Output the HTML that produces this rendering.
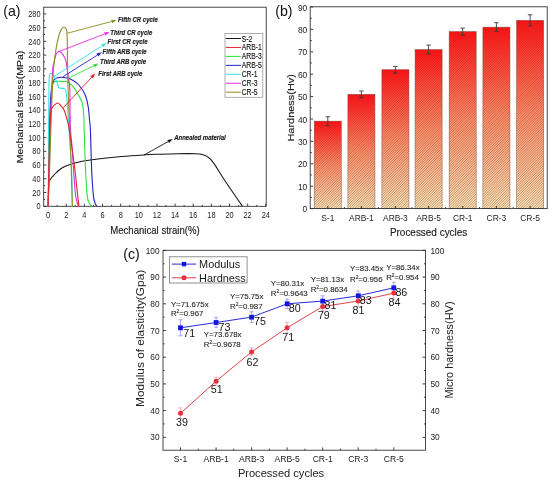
<!DOCTYPE html>
<html lang="en"><head><meta charset="utf-8"><title>Figure</title>
<style>html,body{margin:0;padding:0;background:#fff}svg{display:block}</style></head>
<body>
<svg width="550" height="481" viewBox="0 0 550 481" font-family='"Liberation Sans", Arial, sans-serif'>
<defs>
<linearGradient id="bg" x1="0" y1="0" x2="0" y2="1">
<stop offset="0" stop-color="#ff1618"/><stop offset="0.5" stop-color="#ff9270"/><stop offset="1" stop-color="#ffe6bc"/>
</linearGradient>
<linearGradient id="hg" x1="0" y1="0" x2="0" y2="1">
<stop offset="0" stop-color="#be0a0a" stop-opacity="0.62"/><stop offset="0.5" stop-color="#96320f" stop-opacity="0.62"/><stop offset="1" stop-color="#78461e" stop-opacity="0.62"/>
</linearGradient>
</defs>
<rect width="550" height="481" fill="#fff"/>
<g id="chartA">
<rect x="43.7" y="7.2" width="222.5" height="199.1" fill="none" stroke="#2a2a2a" stroke-width="0.85"/>
<path d="M43.7 206.25h2.6M43.7 199.38h1.4M43.7 192.51h2.6M43.7 185.64h1.4M43.7 178.77h2.6M43.7 171.90h1.4M43.7 165.03h2.6M43.7 158.16h1.4M43.7 151.29h2.6M43.7 144.42h1.4M43.7 137.55h2.6M43.7 130.68h1.4M43.7 123.81h2.6M43.7 116.94h1.4M43.7 110.07h2.6M43.7 103.20h1.4M43.7 96.33h2.6M43.7 89.46h1.4M43.7 82.59h2.6M43.7 75.72h1.4M43.7 68.85h2.6M43.7 61.98h1.4M43.7 55.11h2.6M43.7 48.24h1.4M43.7 41.37h2.6M43.7 34.50h1.4M43.7 27.63h2.6M43.7 20.76h1.4M43.7 13.89h2.6M48.10 206.25v-2.6M57.17 206.25v-1.4M66.24 206.25v-2.6M75.31 206.25v-1.4M84.38 206.25v-2.6M93.45 206.25v-1.4M102.52 206.25v-2.6M111.59 206.25v-1.4M120.66 206.25v-2.6M129.73 206.25v-1.4M138.80 206.25v-2.6M147.87 206.25v-1.4M156.94 206.25v-2.6M166.01 206.25v-1.4M175.08 206.25v-2.6M184.15 206.25v-1.4M193.22 206.25v-2.6M202.29 206.25v-1.4M211.36 206.25v-2.6M220.43 206.25v-1.4M229.50 206.25v-2.6M238.57 206.25v-1.4M247.64 206.25v-2.6M256.71 206.25v-1.4M265.78 206.25v-2.6" stroke="#2a2a2a" stroke-width="0.9" fill="none"/>
<text transform="translate(40.6 209.4) scale(1 1.3)" font-size="7.4" fill="#222" text-anchor="end">0</text>
<text transform="translate(40.6 195.7) scale(1 1.3)" font-size="7.4" fill="#222" text-anchor="end">20</text>
<text transform="translate(40.6 181.9) scale(1 1.3)" font-size="7.4" fill="#222" text-anchor="end">40</text>
<text transform="translate(40.6 168.2) scale(1 1.3)" font-size="7.4" fill="#222" text-anchor="end">60</text>
<text transform="translate(40.6 154.4) scale(1 1.3)" font-size="7.4" fill="#222" text-anchor="end">80</text>
<text transform="translate(40.6 140.7) scale(1 1.3)" font-size="7.4" fill="#222" text-anchor="end">100</text>
<text transform="translate(40.6 127.0) scale(1 1.3)" font-size="7.4" fill="#222" text-anchor="end">120</text>
<text transform="translate(40.6 113.2) scale(1 1.3)" font-size="7.4" fill="#222" text-anchor="end">140</text>
<text transform="translate(40.6 99.5) scale(1 1.3)" font-size="7.4" fill="#222" text-anchor="end">160</text>
<text transform="translate(40.6 85.7) scale(1 1.3)" font-size="7.4" fill="#222" text-anchor="end">180</text>
<text transform="translate(40.6 72.0) scale(1 1.3)" font-size="7.4" fill="#222" text-anchor="end">200</text>
<text transform="translate(40.6 58.3) scale(1 1.3)" font-size="7.4" fill="#222" text-anchor="end">220</text>
<text transform="translate(40.6 44.5) scale(1 1.3)" font-size="7.4" fill="#222" text-anchor="end">240</text>
<text transform="translate(40.6 30.8) scale(1 1.3)" font-size="7.4" fill="#222" text-anchor="end">260</text>
<text transform="translate(40.6 17.0) scale(1 1.3)" font-size="7.4" fill="#222" text-anchor="end">280</text>
<text transform="translate(48.1 218.2) scale(1 1.3)" font-size="7.4" fill="#222" text-anchor="middle">0</text>
<text transform="translate(66.2 218.2) scale(1 1.3)" font-size="7.4" fill="#222" text-anchor="middle">2</text>
<text transform="translate(84.4 218.2) scale(1 1.3)" font-size="7.4" fill="#222" text-anchor="middle">4</text>
<text transform="translate(102.5 218.2) scale(1 1.3)" font-size="7.4" fill="#222" text-anchor="middle">6</text>
<text transform="translate(120.7 218.2) scale(1 1.3)" font-size="7.4" fill="#222" text-anchor="middle">8</text>
<text transform="translate(138.8 218.2) scale(1 1.3)" font-size="7.4" fill="#222" text-anchor="middle">10</text>
<text transform="translate(156.9 218.2) scale(1 1.3)" font-size="7.4" fill="#222" text-anchor="middle">12</text>
<text transform="translate(175.1 218.2) scale(1 1.3)" font-size="7.4" fill="#222" text-anchor="middle">14</text>
<text transform="translate(193.2 218.2) scale(1 1.3)" font-size="7.4" fill="#222" text-anchor="middle">16</text>
<text transform="translate(211.4 218.2) scale(1 1.3)" font-size="7.4" fill="#222" text-anchor="middle">18</text>
<text transform="translate(229.5 218.2) scale(1 1.3)" font-size="7.4" fill="#222" text-anchor="middle">20</text>
<text transform="translate(247.6 218.2) scale(1 1.3)" font-size="7.4" fill="#222" text-anchor="middle">22</text>
<text transform="translate(265.8 218.2) scale(1 1.3)" font-size="7.4" fill="#222" text-anchor="middle">24</text>
<text transform="translate(155.0 233.6) scale(1 1.15)" font-size="9.6" fill="#222" text-anchor="middle" stroke="#222" stroke-width="0.15">Mechanical strain(%)</text>
<text transform="translate(23.0 107.0) rotate(-90) scale(1.18 1)" font-size="8.9" fill="#222" text-anchor="middle" stroke="#222" stroke-width="0.15">Mechanical stress(MPa)</text>
<text x="3.2" y="15.7" font-size="14.2" fill="#111">(a)</text>
<path d="M48.4 184.0C48.5 183.6 48.8 182.5 49.3 181.5C49.8 180.5 50.6 179.0 51.5 177.8C52.4 176.6 53.5 175.5 54.6 174.4C55.7 173.3 56.8 172.0 58.0 171.0C59.2 170.0 60.2 169.1 61.6 168.2C63.0 167.3 64.7 166.5 66.5 165.8C68.3 165.1 70.3 164.4 72.2 163.8C74.1 163.2 75.9 162.7 78.0 162.2C80.1 161.7 81.9 161.3 84.6 160.8C87.3 160.3 90.8 159.8 94.0 159.4C97.2 159.0 99.4 158.7 104.0 158.2C108.6 157.7 115.0 157.1 121.6 156.5C128.2 155.9 136.9 155.3 143.3 154.9C149.7 154.5 154.3 154.4 160.0 154.2C165.7 154.0 171.3 153.8 177.3 153.7C183.3 153.6 191.9 153.6 195.8 153.7C199.8 153.8 199.4 154.0 201.0 154.3C202.6 154.6 203.8 155.0 205.1 155.5C206.3 156.0 207.5 156.7 208.5 157.5C209.5 158.3 210.1 158.7 211.3 160.2C212.5 161.7 213.9 163.3 215.9 166.4C217.9 169.5 219.2 172.1 223.6 178.7C228.0 185.3 239.1 201.4 242.2 205.9" fill="none" stroke="#151515" stroke-width="1.05" stroke-linejoin="round" stroke-linecap="round"/>
<path d="M48.3 206.0C48.4 198.3 48.7 176.0 49.0 160.0C49.3 144.0 49.7 122.5 50.3 110.0C50.9 97.5 52.0 89.7 52.7 85.0C53.4 80.3 53.7 82.4 54.6 81.8C55.5 81.2 56.6 81.2 58.0 81.2C59.4 81.2 61.1 81.5 62.7 81.6C64.3 81.7 66.0 81.1 67.7 81.9C69.4 82.7 71.0 84.2 72.7 86.2C74.4 88.2 76.2 91.0 77.7 93.7C79.2 96.4 81.0 99.1 82.0 102.4C83.0 105.7 83.3 109.1 83.7 113.7C84.1 118.3 83.9 120.7 84.2 129.9C84.5 139.1 85.0 158.1 85.5 169.0C86.0 179.9 86.6 190.0 87.2 195.6C87.8 201.2 88.3 200.8 89.0 202.6C89.7 204.4 91.2 205.6 91.6 206.2" fill="none" stroke="#2fe23a" stroke-width="1.1" stroke-linejoin="round" stroke-linecap="round"/>
<path d="M48.3 206.0C48.4 199.2 48.8 177.7 49.0 165.0C49.2 152.3 49.4 139.5 49.6 129.9C49.8 120.3 49.9 114.3 50.2 107.4C50.5 100.5 50.9 93.3 51.5 88.7C52.1 84.1 53.0 81.8 54.0 80.0C55.0 78.2 56.0 78.1 57.7 77.7C59.4 77.3 61.7 77.2 64.0 77.5C66.3 77.8 68.9 78.2 71.4 79.4C73.9 80.7 76.6 82.4 78.9 85.0C81.2 87.6 83.6 91.3 85.2 95.0C86.8 98.7 87.6 103.2 88.3 107.4C89.0 111.6 89.2 116.2 89.5 119.9C89.8 123.7 90.1 121.7 90.4 129.9C90.8 138.1 91.1 158.1 91.6 169.0C92.1 179.9 92.8 189.8 93.4 195.6C94.0 201.3 94.6 201.7 95.2 203.5C95.8 205.3 96.6 205.8 96.9 206.2" fill="none" stroke="#2222cc" stroke-width="1.1" stroke-linejoin="round" stroke-linecap="round"/>
<path d="M48.2 206.0C48.2 195.0 48.4 160.3 48.5 140.0C48.6 119.7 48.8 94.8 49.0 84.0C49.2 73.2 49.2 77.3 49.5 75.5C49.8 73.7 50.4 73.5 50.9 73.3C51.4 73.1 51.8 72.9 52.7 74.2C53.6 75.5 55.6 79.2 56.5 81.2C57.4 83.2 57.8 85.1 58.3 86.2C58.8 87.3 58.6 87.7 59.6 88.1C60.6 88.5 63.0 88.3 64.0 88.7C65.0 89.1 65.3 88.5 65.8 90.6C66.3 92.7 66.7 96.3 67.1 101.2C67.5 106.1 67.7 111.5 68.3 119.9C68.9 128.3 69.9 141.8 70.5 151.5C71.1 161.2 71.6 168.9 71.9 178.0C72.2 187.1 72.2 201.5 72.2 206.2" fill="none" stroke="#30e4e8" stroke-width="1.1" stroke-linejoin="round" stroke-linecap="round"/>
<path d="M47.9 206.0C48.1 199.2 48.9 178.5 49.3 165.0C49.7 151.5 49.9 134.7 50.2 125.0C50.5 115.3 50.5 116.2 50.9 107.0C51.3 97.8 52.2 77.2 52.7 70.0C53.2 62.8 53.2 66.3 53.8 63.7C54.3 61.1 55.1 56.6 56.0 54.5C56.9 52.4 58.0 51.6 58.9 51.3C59.8 51.0 60.6 51.9 61.5 52.8C62.4 53.6 63.2 54.8 64.0 56.4C64.8 58.0 65.5 58.6 66.2 62.2C66.9 65.8 67.8 73.8 68.4 78.2C69.0 82.6 69.5 80.6 69.8 88.4C70.1 96.2 69.9 114.5 70.3 125.0C70.7 135.5 71.8 142.7 72.4 151.5C73.0 160.3 73.6 170.7 74.1 178.0C74.6 185.3 75.0 191.2 75.6 195.6C76.2 200.0 77.2 202.6 77.7 204.4C78.2 206.2 78.4 205.9 78.6 206.2" fill="none" stroke="#e62be0" stroke-width="1.1" stroke-linejoin="round" stroke-linecap="round"/>
<path d="M47.9 206.2C48.1 201.5 48.8 191.5 49.3 178.0C49.8 164.5 50.5 138.8 51.0 125.0C51.5 111.2 51.7 104.2 52.1 95.0C52.5 85.8 52.8 77.7 53.4 70.0C54.0 62.4 55.1 54.9 56.0 49.1C56.9 43.3 58.1 38.3 59.0 35.0C59.9 31.7 60.7 30.5 61.5 29.2C62.3 27.9 63.0 27.5 63.7 27.3C64.4 27.1 65.0 27.5 65.5 28.2C66.0 28.9 66.6 28.1 66.9 31.6C67.2 35.1 67.3 41.3 67.4 49.1C67.5 56.9 67.2 61.4 67.7 78.2C68.2 95.0 69.8 128.7 70.6 150.0C71.4 171.3 72.1 196.8 72.4 206.2" fill="none" stroke="#8f8f22" stroke-width="1.1" stroke-linejoin="round" stroke-linecap="round"/>
<path d="M48.2 206.0C48.3 200.0 48.6 181.8 48.8 170.0C49.0 158.2 49.2 144.8 49.6 135.0C50.0 125.2 50.5 115.7 50.9 111.2C51.3 106.7 51.5 109.0 52.1 108.0C52.7 107.0 53.7 105.7 54.6 104.9C55.5 104.1 56.8 103.0 57.7 103.0C58.6 103.0 59.2 103.8 60.2 104.9C61.2 106.1 62.9 107.6 64.0 109.9C65.1 112.2 66.0 115.6 66.8 118.5C67.6 121.4 67.9 121.7 68.9 127.3C69.9 132.9 71.5 144.1 72.6 152.2C73.7 160.3 74.8 168.8 75.6 176.0C76.4 183.2 77.2 190.6 77.7 195.6C78.2 200.6 78.7 204.4 78.9 206.2" fill="none" stroke="#e0262c" stroke-width="1.1" stroke-linejoin="round" stroke-linecap="round"/>
<path d="M67.3 33.2L111.6 21.5" stroke="#8f8f22" stroke-width="0.9" fill="none"/>
<path d="M116.6 20.2L112.0 23.3L111.1 19.8Z" fill="#8f8f22"/>
<path d="M58.5 51.7L104.7 33.9" stroke="#e62be0" stroke-width="0.9" fill="none"/>
<path d="M109.6 32.0L105.4 35.6L104.1 32.2Z" fill="#e62be0"/>
<path d="M54.2 76.4L102.2 45.7" stroke="#30e4e8" stroke-width="0.9" fill="none"/>
<path d="M106.6 42.9L103.2 47.2L101.2 44.2Z" fill="#30e4e8"/>
<path d="M62.9 76.8L97.4 55.1" stroke="#2222cc" stroke-width="0.9" fill="none"/>
<path d="M101.8 52.3L98.4 56.6L96.4 53.5Z" fill="#2222cc"/>
<path d="M67.3 78.5L93.9 65.8" stroke="#2fe23a" stroke-width="0.9" fill="none"/>
<path d="M98.6 63.6L94.7 67.5L93.1 64.2Z" fill="#2fe23a"/>
<path d="M63.3 107.7L91.7 77.2" stroke="#e0262c" stroke-width="0.9" fill="none"/>
<path d="M95.2 73.4L93.0 78.4L90.3 76.0Z" fill="#e0262c"/>
<path d="M144.2 154.9L168.3 141.5" stroke="#151515" stroke-width="0.9" fill="none"/>
<path d="M172.8 139.0L169.1 143.1L167.4 140.0Z" fill="#151515"/>
<text transform="translate(117.9 21.9) scale(1 1.27)" font-size="6.0" fill="#1a1a1a" font-weight="bold" font-style="italic" stroke="#1a1a1a" stroke-width="0.15">Fifth CR cycle</text>
<text transform="translate(110.3 34.8) scale(1 1.27)" font-size="6.0" fill="#1a1a1a" font-weight="bold" font-style="italic" stroke="#1a1a1a" stroke-width="0.15">Third CR cycle</text>
<text transform="translate(107.6 43.7) scale(1 1.27)" font-size="6.0" fill="#1a1a1a" font-weight="bold" font-style="italic" stroke="#1a1a1a" stroke-width="0.15">First CR cycle</text>
<text transform="translate(102.6 54.4) scale(1 1.27)" font-size="6.0" fill="#1a1a1a" font-weight="bold" font-style="italic" stroke="#1a1a1a" stroke-width="0.15">Fifth ARB cycle</text>
<text transform="translate(100.0 64.4) scale(1 1.27)" font-size="6.0" fill="#1a1a1a" font-weight="bold" font-style="italic" stroke="#1a1a1a" stroke-width="0.15">Third ARB cycle</text>
<text transform="translate(98.3 75.8) scale(1 1.27)" font-size="6.0" fill="#1a1a1a" font-weight="bold" font-style="italic" stroke="#1a1a1a" stroke-width="0.15">First ARB cycle</text>
<text transform="translate(174.2 140.3) scale(1 1.27)" font-size="6.0" fill="#1a1a1a" font-weight="bold" font-style="italic" stroke="#1a1a1a" stroke-width="0.15">Annealed material</text>
<rect x="225" y="33.5" width="37.8" height="63.8" fill="#fff" stroke="#999" stroke-width="0.8"/>
<path d="M225.8 38.50H241" stroke="#151515" stroke-width="1"/>
<text transform="translate(241.7 41.5) scale(1 1.22)" font-size="6.8" fill="#1a1a1a" stroke="#1a1a1a" stroke-width="0.12">S-2</text>
<path d="M225.8 47.45H241" stroke="#e0262c" stroke-width="1"/>
<text transform="translate(241.7 50.4) scale(1 1.22)" font-size="6.8" fill="#1a1a1a" stroke="#1a1a1a" stroke-width="0.12">ARB-1</text>
<path d="M225.8 56.40H241" stroke="#2fe23a" stroke-width="1"/>
<text transform="translate(241.7 59.4) scale(1 1.22)" font-size="6.8" fill="#1a1a1a" stroke="#1a1a1a" stroke-width="0.12">ARB-3</text>
<path d="M225.8 65.35H241" stroke="#2222cc" stroke-width="1"/>
<text transform="translate(241.7 68.3) scale(1 1.22)" font-size="6.8" fill="#1a1a1a" stroke="#1a1a1a" stroke-width="0.12">ARB-5</text>
<path d="M225.8 74.30H241" stroke="#30e4e8" stroke-width="1"/>
<text transform="translate(241.7 77.3) scale(1 1.22)" font-size="6.8" fill="#1a1a1a" stroke="#1a1a1a" stroke-width="0.12">CR-1</text>
<path d="M225.8 83.25H241" stroke="#e62be0" stroke-width="1"/>
<text transform="translate(241.7 86.2) scale(1 1.22)" font-size="6.8" fill="#1a1a1a" stroke="#1a1a1a" stroke-width="0.12">CR-3</text>
<path d="M225.8 92.20H241" stroke="#8f8f22" stroke-width="1"/>
<text transform="translate(241.7 95.2) scale(1 1.22)" font-size="6.8" fill="#1a1a1a" stroke="#1a1a1a" stroke-width="0.12">CR-5</text>
</g>
<g id="chartB">
<rect x="314.3" y="121.2" width="27.0" height="87.4" fill="url(#bg)"/>
<path d="M314.3 121.8L314.9 121.2M314.3 124.3L317.4 121.2M314.3 126.7L319.8 121.2M314.3 129.2L322.2 121.2M314.3 131.6L324.7 121.2M314.3 134.1L327.1 121.2M314.3 136.5L329.6 121.2M314.3 139.0L332.0 121.2M314.3 141.4L334.5 121.2M314.3 143.9L336.9 121.2M314.3 146.3L339.4 121.2M314.3 148.8L341.3 121.8M314.3 151.2L341.3 124.2M314.3 153.7L341.3 126.7M314.3 156.1L341.3 129.1M314.3 158.6L341.3 131.6M314.3 161.0L341.3 134.0M314.3 163.5L341.3 136.5M314.3 165.9L341.3 138.9M314.3 168.4L341.3 141.4M314.3 170.8L341.3 143.8M314.3 173.3L341.3 146.3M314.3 175.7L341.3 148.7M314.3 178.2L341.3 151.2M314.3 180.6L341.3 153.6M314.3 183.1L341.3 156.1M314.3 185.5L341.3 158.5M314.3 188.0L341.3 161.0M314.3 190.4L341.3 163.4M314.3 192.9L341.3 165.9M314.3 195.3L341.3 168.3M314.3 197.8L341.3 170.8M314.3 200.2L341.3 173.2M314.3 202.7L341.3 175.7M314.3 205.1L341.3 178.1M314.3 207.6L341.3 180.6M315.7 208.6L341.3 183.0M318.2 208.6L341.3 185.5M320.6 208.6L341.3 187.9M323.1 208.6L341.3 190.4M325.5 208.6L341.3 192.8M328.0 208.6L341.3 195.3M330.4 208.6L341.3 197.7M332.9 208.6L341.3 200.2M335.3 208.6L341.3 202.6M337.8 208.6L341.3 205.1M340.2 208.6L341.3 207.5" stroke="url(#hg)" stroke-width="0.72" fill="none"/>
<rect x="347.9" y="94.4" width="27.0" height="114.2" fill="url(#bg)"/>
<path d="M347.9 95.0L348.5 94.4M347.9 97.4L351.0 94.4M347.9 99.9L353.4 94.4M347.9 102.3L355.9 94.4M347.9 104.8L358.3 94.4M347.9 107.2L360.8 94.4M347.9 109.7L363.2 94.4M347.9 112.1L365.6 94.4M347.9 114.6L368.1 94.4M347.9 117.0L370.5 94.4M347.9 119.5L373.0 94.4M347.9 121.9L374.9 94.9M347.9 124.4L374.9 97.4M347.9 126.8L374.9 99.8M347.9 129.3L374.9 102.3M347.9 131.7L374.9 104.7M347.9 134.2L374.9 107.2M347.9 136.6L374.9 109.6M347.9 139.1L374.9 112.1M347.9 141.5L374.9 114.5M347.9 144.0L374.9 117.0M347.9 146.4L374.9 119.4M347.9 148.9L374.9 121.9M347.9 151.3L374.9 124.3M347.9 153.8L374.9 126.8M347.9 156.2L374.9 129.2M347.9 158.7L374.9 131.7M347.9 161.1L374.9 134.1M347.9 163.6L374.9 136.6M347.9 166.0L374.9 139.0M347.9 168.5L374.9 141.5M347.9 170.9L374.9 143.9M347.9 173.4L374.9 146.4M347.9 175.8L374.9 148.8M347.9 178.3L374.9 151.3M347.9 180.7L374.9 153.7M347.9 183.2L374.9 156.2M347.9 185.6L374.9 158.6M347.9 188.1L374.9 161.1M347.9 190.5L374.9 163.5M347.9 193.0L374.9 166.0M347.9 195.4L374.9 168.4M347.9 197.9L374.9 170.9M347.9 200.3L374.9 173.3M347.9 202.8L374.9 175.8M347.9 205.2L374.9 178.2M347.9 207.7L374.9 180.7M349.4 208.6L374.9 183.1M351.9 208.6L374.9 185.6M354.3 208.6L374.9 188.0M356.8 208.6L374.9 190.5M359.2 208.6L374.9 192.9M361.7 208.6L374.9 195.4M364.1 208.6L374.9 197.8M366.6 208.6L374.9 200.3M369.0 208.6L374.9 202.7M371.5 208.6L374.9 205.2M373.9 208.6L374.9 207.6" stroke="url(#hg)" stroke-width="0.72" fill="none"/>
<rect x="381.9" y="69.7" width="27.0" height="138.9" fill="url(#bg)"/>
<path d="M381.9 70.3L382.5 69.7M381.9 72.8L384.9 69.7M381.9 75.2L387.4 69.7M381.9 77.7L389.8 69.7M381.9 80.1L392.3 69.7M381.9 82.6L394.7 69.7M381.9 85.0L397.2 69.7M381.9 87.5L399.6 69.7M381.9 89.9L402.1 69.7M381.9 92.4L404.5 69.7M381.9 94.8L407.0 69.7M381.9 97.3L408.9 70.3M381.9 99.7L408.9 72.7M381.9 102.2L408.9 75.2M381.9 104.6L408.9 77.6M381.9 107.1L408.9 80.1M381.9 109.5L408.9 82.5M381.9 112.0L408.9 85.0M381.9 114.4L408.9 87.4M381.9 116.9L408.9 89.9M381.9 119.3L408.9 92.3M381.9 121.8L408.9 94.8M381.9 124.2L408.9 97.2M381.9 126.7L408.9 99.7M381.9 129.1L408.9 102.1M381.9 131.6L408.9 104.6M381.9 134.0L408.9 107.0M381.9 136.5L408.9 109.5M381.9 138.9L408.9 111.9M381.9 141.4L408.9 114.4M381.9 143.8L408.9 116.8M381.9 146.3L408.9 119.3M381.9 148.7L408.9 121.7M381.9 151.2L408.9 124.2M381.9 153.6L408.9 126.6M381.9 156.1L408.9 129.1M381.9 158.5L408.9 131.5M381.9 161.0L408.9 134.0M381.9 163.4L408.9 136.4M381.9 165.9L408.9 138.9M381.9 168.3L408.9 141.3M381.9 170.8L408.9 143.8M381.9 173.2L408.9 146.2M381.9 175.7L408.9 148.7M381.9 178.1L408.9 151.1M381.9 180.6L408.9 153.6M381.9 183.0L408.9 156.0M381.9 185.5L408.9 158.5M381.9 187.9L408.9 160.9M381.9 190.4L408.9 163.4M381.9 192.8L408.9 165.8M381.9 195.3L408.9 168.3M381.9 197.7L408.9 170.7M381.9 200.2L408.9 173.2M381.9 202.6L408.9 175.6M381.9 205.1L408.9 178.1M381.9 207.5L408.9 180.5M383.3 208.6L408.9 183.0M385.7 208.6L408.9 185.4M388.2 208.6L408.9 187.9M390.6 208.6L408.9 190.3M393.1 208.6L408.9 192.8M395.5 208.6L408.9 195.2M398.0 208.6L408.9 197.7M400.4 208.6L408.9 200.1M402.9 208.6L408.9 202.6M405.3 208.6L408.9 205.0M407.8 208.6L408.9 207.5" stroke="url(#hg)" stroke-width="0.72" fill="none"/>
<rect x="415.1" y="49.6" width="27.0" height="159.0" fill="url(#bg)"/>
<path d="M415.1 50.2L415.7 49.6M415.1 52.6L418.1 49.6M415.1 55.1L420.6 49.6M415.1 57.5L423.0 49.6M415.1 60.0L425.5 49.6M415.1 62.4L427.9 49.6M415.1 64.9L430.4 49.6M415.1 67.3L432.8 49.6M415.1 69.8L435.3 49.6M415.1 72.2L437.7 49.6M415.1 74.7L440.2 49.6M415.1 77.1L442.1 50.1M415.1 79.6L442.1 52.6M415.1 82.0L442.1 55.0M415.1 84.5L442.1 57.5M415.1 86.9L442.1 59.9M415.1 89.4L442.1 62.4M415.1 91.8L442.1 64.8M415.1 94.3L442.1 67.3M415.1 96.7L442.1 69.7M415.1 99.2L442.1 72.2M415.1 101.6L442.1 74.6M415.1 104.1L442.1 77.1M415.1 106.5L442.1 79.5M415.1 109.0L442.1 82.0M415.1 111.4L442.1 84.4M415.1 113.9L442.1 86.9M415.1 116.3L442.1 89.3M415.1 118.8L442.1 91.8M415.1 121.2L442.1 94.2M415.1 123.7L442.1 96.7M415.1 126.1L442.1 99.1M415.1 128.6L442.1 101.6M415.1 131.0L442.1 104.0M415.1 133.5L442.1 106.5M415.1 135.9L442.1 108.9M415.1 138.4L442.1 111.4M415.1 140.8L442.1 113.8M415.1 143.3L442.1 116.3M415.1 145.7L442.1 118.7M415.1 148.2L442.1 121.2M415.1 150.6L442.1 123.6M415.1 153.1L442.1 126.1M415.1 155.5L442.1 128.5M415.1 158.0L442.1 131.0M415.1 160.4L442.1 133.4M415.1 162.9L442.1 135.9M415.1 165.3L442.1 138.3M415.1 167.8L442.1 140.8M415.1 170.2L442.1 143.2M415.1 172.7L442.1 145.7M415.1 175.1L442.1 148.1M415.1 177.6L442.1 150.6M415.1 180.0L442.1 153.0M415.1 182.5L442.1 155.5M415.1 184.9L442.1 157.9M415.1 187.4L442.1 160.4M415.1 189.8L442.1 162.8M415.1 192.3L442.1 165.3M415.1 194.7L442.1 167.7M415.1 197.2L442.1 170.2M415.1 199.6L442.1 172.6M415.1 202.1L442.1 175.1M415.1 204.5L442.1 177.5M415.1 207.0L442.1 180.0M415.9 208.6L442.1 182.4M418.4 208.6L442.1 184.9M420.8 208.6L442.1 187.3M423.3 208.6L442.1 189.8M425.7 208.6L442.1 192.2M428.2 208.6L442.1 194.7M430.6 208.6L442.1 197.1M433.1 208.6L442.1 199.6M435.5 208.6L442.1 202.0M438.0 208.6L442.1 204.5M440.4 208.6L442.1 206.9" stroke="url(#hg)" stroke-width="0.72" fill="none"/>
<rect x="449.2" y="31.6" width="27.0" height="177.0" fill="url(#bg)"/>
<path d="M449.2 32.2L449.8 31.6M449.2 34.7L452.2 31.6M449.2 37.1L454.7 31.6M449.2 39.6L457.1 31.6M449.2 42.0L459.6 31.6M449.2 44.5L462.0 31.6M449.2 46.9L464.5 31.6M449.2 49.4L466.9 31.6M449.2 51.8L469.4 31.6M449.2 54.3L471.8 31.6M449.2 56.7L474.3 31.6M449.2 59.2L476.2 32.2M449.2 61.6L476.2 34.6M449.2 64.1L476.2 37.1M449.2 66.5L476.2 39.5M449.2 69.0L476.2 42.0M449.2 71.4L476.2 44.4M449.2 73.9L476.2 46.9M449.2 76.3L476.2 49.3M449.2 78.8L476.2 51.8M449.2 81.2L476.2 54.2M449.2 83.7L476.2 56.7M449.2 86.1L476.2 59.1M449.2 88.6L476.2 61.6M449.2 91.0L476.2 64.0M449.2 93.5L476.2 66.5M449.2 95.9L476.2 68.9M449.2 98.4L476.2 71.4M449.2 100.8L476.2 73.8M449.2 103.3L476.2 76.3M449.2 105.7L476.2 78.7M449.2 108.2L476.2 81.2M449.2 110.6L476.2 83.6M449.2 113.1L476.2 86.1M449.2 115.5L476.2 88.5M449.2 118.0L476.2 91.0M449.2 120.4L476.2 93.4M449.2 122.9L476.2 95.9M449.2 125.3L476.2 98.3M449.2 127.8L476.2 100.8M449.2 130.2L476.2 103.2M449.2 132.7L476.2 105.7M449.2 135.1L476.2 108.1M449.2 137.6L476.2 110.6M449.2 140.0L476.2 113.0M449.2 142.5L476.2 115.5M449.2 144.9L476.2 117.9M449.2 147.4L476.2 120.4M449.2 149.8L476.2 122.8M449.2 152.3L476.2 125.3M449.2 154.7L476.2 127.7M449.2 157.2L476.2 130.2M449.2 159.6L476.2 132.6M449.2 162.1L476.2 135.1M449.2 164.5L476.2 137.5M449.2 167.0L476.2 140.0M449.2 169.4L476.2 142.4M449.2 171.9L476.2 144.9M449.2 174.3L476.2 147.3M449.2 176.8L476.2 149.8M449.2 179.2L476.2 152.2M449.2 181.7L476.2 154.7M449.2 184.1L476.2 157.1M449.2 186.6L476.2 159.6M449.2 189.0L476.2 162.0M449.2 191.5L476.2 164.5M449.2 193.9L476.2 166.9M449.2 196.4L476.2 169.4M449.2 198.8L476.2 171.8M449.2 201.3L476.2 174.3M449.2 203.7L476.2 176.7M449.2 206.2L476.2 179.2M449.2 208.6L476.2 181.6M451.7 208.6L476.2 184.1M454.1 208.6L476.2 186.5M456.6 208.6L476.2 189.0M459.0 208.6L476.2 191.4M461.5 208.6L476.2 193.9M463.9 208.6L476.2 196.3M466.4 208.6L476.2 198.8M468.8 208.6L476.2 201.2M471.3 208.6L476.2 203.7M473.7 208.6L476.2 206.1" stroke="url(#hg)" stroke-width="0.72" fill="none"/>
<rect x="482.9" y="27.2" width="27.0" height="181.4" fill="url(#bg)"/>
<path d="M482.9 27.8L483.5 27.2M482.9 30.2L486.0 27.2M482.9 32.7L488.4 27.2M482.9 35.1L490.9 27.2M482.9 37.6L493.3 27.2M482.9 40.0L495.8 27.2M482.9 42.5L498.2 27.2M482.9 44.9L500.7 27.2M482.9 47.4L503.1 27.2M482.9 49.8L505.6 27.2M482.9 52.3L508.0 27.2M482.9 54.7L509.9 27.7M482.9 57.2L509.9 30.2M482.9 59.6L509.9 32.6M482.9 62.1L509.9 35.1M482.9 64.5L509.9 37.5M482.9 67.0L509.9 40.0M482.9 69.4L509.9 42.4M482.9 71.9L509.9 44.9M482.9 74.3L509.9 47.3M482.9 76.8L509.9 49.8M482.9 79.2L509.9 52.2M482.9 81.7L509.9 54.7M482.9 84.1L509.9 57.1M482.9 86.6L509.9 59.6M482.9 89.0L509.9 62.0M482.9 91.5L509.9 64.5M482.9 93.9L509.9 66.9M482.9 96.4L509.9 69.4M482.9 98.8L509.9 71.8M482.9 101.3L509.9 74.3M482.9 103.7L509.9 76.7M482.9 106.2L509.9 79.2M482.9 108.6L509.9 81.6M482.9 111.1L509.9 84.1M482.9 113.5L509.9 86.5M482.9 116.0L509.9 89.0M482.9 118.4L509.9 91.4M482.9 120.9L509.9 93.9M482.9 123.3L509.9 96.3M482.9 125.8L509.9 98.8M482.9 128.2L509.9 101.2M482.9 130.7L509.9 103.7M482.9 133.1L509.9 106.1M482.9 135.6L509.9 108.6M482.9 138.0L509.9 111.0M482.9 140.5L509.9 113.5M482.9 142.9L509.9 115.9M482.9 145.4L509.9 118.4M482.9 147.8L509.9 120.8M482.9 150.3L509.9 123.3M482.9 152.7L509.9 125.7M482.9 155.2L509.9 128.2M482.9 157.6L509.9 130.6M482.9 160.1L509.9 133.1M482.9 162.5L509.9 135.5M482.9 165.0L509.9 138.0M482.9 167.4L509.9 140.4M482.9 169.9L509.9 142.9M482.9 172.3L509.9 145.3M482.9 174.8L509.9 147.8M482.9 177.2L509.9 150.2M482.9 179.7L509.9 152.7M482.9 182.1L509.9 155.1M482.9 184.6L509.9 157.6M482.9 187.0L509.9 160.0M482.9 189.5L509.9 162.5M482.9 191.9L509.9 164.9M482.9 194.4L509.9 167.4M482.9 196.8L509.9 169.8M482.9 199.3L509.9 172.3M482.9 201.7L509.9 174.7M482.9 204.2L509.9 177.2M482.9 206.6L509.9 179.6M483.4 208.6L509.9 182.1M485.8 208.6L509.9 184.5M488.3 208.6L509.9 187.0M490.7 208.6L509.9 189.4M493.2 208.6L509.9 191.9M495.6 208.6L509.9 194.3M498.1 208.6L509.9 196.8M500.5 208.6L509.9 199.2M503.0 208.6L509.9 201.7M505.4 208.6L509.9 204.1M507.9 208.6L509.9 206.6" stroke="url(#hg)" stroke-width="0.72" fill="none"/>
<rect x="516.6" y="20.4" width="27.0" height="188.2" fill="url(#bg)"/>
<path d="M516.6 21.0L517.2 20.4M516.6 23.5L519.7 20.4M516.6 25.9L522.1 20.4M516.6 28.4L524.6 20.4M516.6 30.8L527.0 20.4M516.6 33.3L529.5 20.4M516.6 35.7L531.9 20.4M516.6 38.2L534.4 20.4M516.6 40.6L536.8 20.4M516.6 43.1L539.3 20.4M516.6 45.5L541.7 20.4M516.6 48.0L543.6 21.0M516.6 50.4L543.6 23.4M516.6 52.9L543.6 25.9M516.6 55.3L543.6 28.3M516.6 57.8L543.6 30.8M516.6 60.2L543.6 33.2M516.6 62.7L543.6 35.7M516.6 65.1L543.6 38.1M516.6 67.6L543.6 40.6M516.6 70.0L543.6 43.0M516.6 72.5L543.6 45.5M516.6 74.9L543.6 47.9M516.6 77.4L543.6 50.4M516.6 79.8L543.6 52.8M516.6 82.3L543.6 55.3M516.6 84.7L543.6 57.7M516.6 87.2L543.6 60.2M516.6 89.6L543.6 62.6M516.6 92.1L543.6 65.1M516.6 94.5L543.6 67.5M516.6 97.0L543.6 70.0M516.6 99.4L543.6 72.4M516.6 101.9L543.6 74.9M516.6 104.3L543.6 77.3M516.6 106.8L543.6 79.8M516.6 109.2L543.6 82.2M516.6 111.7L543.6 84.7M516.6 114.1L543.6 87.1M516.6 116.6L543.6 89.6M516.6 119.0L543.6 92.0M516.6 121.5L543.6 94.5M516.6 123.9L543.6 96.9M516.6 126.4L543.6 99.4M516.6 128.8L543.6 101.8M516.6 131.3L543.6 104.3M516.6 133.7L543.6 106.7M516.6 136.2L543.6 109.2M516.6 138.6L543.6 111.6M516.6 141.1L543.6 114.1M516.6 143.5L543.6 116.5M516.6 146.0L543.6 119.0M516.6 148.4L543.6 121.4M516.6 150.9L543.6 123.9M516.6 153.3L543.6 126.3M516.6 155.8L543.6 128.8M516.6 158.2L543.6 131.2M516.6 160.7L543.6 133.7M516.6 163.1L543.6 136.1M516.6 165.6L543.6 138.6M516.6 168.0L543.6 141.0M516.6 170.5L543.6 143.5M516.6 172.9L543.6 145.9M516.6 175.4L543.6 148.4M516.6 177.8L543.6 150.8M516.6 180.3L543.6 153.3M516.6 182.7L543.6 155.7M516.6 185.2L543.6 158.2M516.6 187.6L543.6 160.6M516.6 190.1L543.6 163.1M516.6 192.5L543.6 165.5M516.6 195.0L543.6 168.0M516.6 197.4L543.6 170.4M516.6 199.9L543.6 172.9M516.6 202.3L543.6 175.3M516.6 204.8L543.6 177.8M516.6 207.2L543.6 180.2M517.7 208.6L543.6 182.7M520.1 208.6L543.6 185.1M522.6 208.6L543.6 187.6M525.0 208.6L543.6 190.0M527.5 208.6L543.6 192.5M529.9 208.6L543.6 194.9M532.4 208.6L543.6 197.4M534.8 208.6L543.6 199.8M537.3 208.6L543.6 202.3M539.7 208.6L543.6 204.7M542.2 208.6L543.6 207.2" stroke="url(#hg)" stroke-width="0.72" fill="none"/>
<rect x="314.3" y="121.2" width="27.0" height="87.4" fill="none" stroke="#6a3a28" stroke-opacity="0.6" stroke-width="0.7"/>
<path d="M327.8 116.8V125.7M325.6 116.8h4.4M325.6 125.7h4.4" stroke="#3a3a3a" stroke-width="0.9" fill="none"/>
<rect x="347.9" y="94.4" width="27.0" height="114.2" fill="none" stroke="#6a3a28" stroke-opacity="0.6" stroke-width="0.7"/>
<path d="M361.4 91.0V97.7M359.2 91.0h4.4M359.2 97.7h4.4" stroke="#3a3a3a" stroke-width="0.9" fill="none"/>
<rect x="381.9" y="69.7" width="27.0" height="138.9" fill="none" stroke="#6a3a28" stroke-opacity="0.6" stroke-width="0.7"/>
<path d="M395.4 66.4V73.1M393.2 66.4h4.4M393.2 73.1h4.4" stroke="#3a3a3a" stroke-width="0.9" fill="none"/>
<rect x="415.1" y="49.6" width="27.0" height="159.0" fill="none" stroke="#6a3a28" stroke-opacity="0.6" stroke-width="0.7"/>
<path d="M428.6 45.1V54.0M426.4 45.1h4.4M426.4 54.0h4.4" stroke="#3a3a3a" stroke-width="0.9" fill="none"/>
<rect x="449.2" y="31.6" width="27.0" height="177.0" fill="none" stroke="#6a3a28" stroke-opacity="0.6" stroke-width="0.7"/>
<path d="M462.7 28.1V35.2M460.5 28.1h4.4M460.5 35.2h4.4" stroke="#3a3a3a" stroke-width="0.9" fill="none"/>
<rect x="482.9" y="27.2" width="27.0" height="181.4" fill="none" stroke="#6a3a28" stroke-opacity="0.6" stroke-width="0.7"/>
<path d="M496.4 22.7V31.6M494.2 22.7h4.4M494.2 31.6h4.4" stroke="#3a3a3a" stroke-width="0.9" fill="none"/>
<rect x="516.6" y="20.4" width="27.0" height="188.2" fill="none" stroke="#6a3a28" stroke-opacity="0.6" stroke-width="0.7"/>
<path d="M530.1 14.8V26.0M527.9 14.8h4.4M527.9 26.0h4.4" stroke="#3a3a3a" stroke-width="0.9" fill="none"/>
<rect x="310.2" y="6.8" width="237.0" height="201.8" fill="none" stroke="#2a2a2a" stroke-width="0.85"/>
<path d="M310.2 208.60h3M310.2 197.40h1.6M310.2 186.20h3M310.2 175.00h1.6M310.2 163.80h3M310.2 152.60h1.6M310.2 141.40h3M310.2 130.20h1.6M310.2 119.00h3M310.2 107.80h1.6M310.2 96.60h3M310.2 85.40h1.6M310.2 74.20h3M310.2 63.00h1.6M310.2 51.80h3M310.2 40.60h1.6M310.2 29.40h3M310.2 18.20h1.6M310.2 7.00h3M327.8 208.6v-2.6M361.4 208.6v-2.6M395.4 208.6v-2.6M428.6 208.6v-2.6M462.7 208.6v-2.6M496.4 208.6v-2.6M530.1 208.6v-2.6M344.6 208.6v-1.5M378.4 208.6v-1.5M412.0 208.6v-1.5M445.6 208.6v-1.5M479.5 208.6v-1.5M513.2 208.6v-1.5" stroke="#2a2a2a" stroke-width="0.9" fill="none"/>
<text transform="translate(307.3 212.1) scale(1 1.15)" font-size="8.4" fill="#222" text-anchor="end">0</text>
<text transform="translate(307.3 189.7) scale(1 1.15)" font-size="8.4" fill="#222" text-anchor="end">10</text>
<text transform="translate(307.3 167.3) scale(1 1.15)" font-size="8.4" fill="#222" text-anchor="end">20</text>
<text transform="translate(307.3 144.9) scale(1 1.15)" font-size="8.4" fill="#222" text-anchor="end">30</text>
<text transform="translate(307.3 122.5) scale(1 1.15)" font-size="8.4" fill="#222" text-anchor="end">40</text>
<text transform="translate(307.3 100.1) scale(1 1.15)" font-size="8.4" fill="#222" text-anchor="end">50</text>
<text transform="translate(307.3 77.7) scale(1 1.15)" font-size="8.4" fill="#222" text-anchor="end">60</text>
<text transform="translate(307.3 55.3) scale(1 1.15)" font-size="8.4" fill="#222" text-anchor="end">70</text>
<text transform="translate(307.3 32.9) scale(1 1.15)" font-size="8.4" fill="#222" text-anchor="end">80</text>
<text transform="translate(307.3 10.5) scale(1 1.15)" font-size="8.4" fill="#222" text-anchor="end">90</text>
<text transform="translate(327.8 220.9) scale(1 1.15)" font-size="8.4" fill="#222" text-anchor="middle">S-1</text>
<text transform="translate(361.4 220.9) scale(1 1.15)" font-size="8.4" fill="#222" text-anchor="middle">ARB-1</text>
<text transform="translate(395.4 220.9) scale(1 1.15)" font-size="8.4" fill="#222" text-anchor="middle">ARB-3</text>
<text transform="translate(428.6 220.9) scale(1 1.15)" font-size="8.4" fill="#222" text-anchor="middle">ARB-5</text>
<text transform="translate(462.7 220.9) scale(1 1.15)" font-size="8.4" fill="#222" text-anchor="middle">CR-1</text>
<text transform="translate(496.4 220.9) scale(1 1.15)" font-size="8.4" fill="#222" text-anchor="middle">CR-3</text>
<text transform="translate(530.1 220.9) scale(1 1.15)" font-size="8.4" fill="#222" text-anchor="middle">CR-5</text>
<text transform="translate(428.6 236.3) scale(1 1.15)" font-size="9.95" fill="#222" text-anchor="middle" stroke="#222" stroke-width="0.15">Processed cycles</text>
<text transform="translate(294.1 107.8) rotate(-90) scale(1.18 1)" font-size="9.3" fill="#222" text-anchor="middle" stroke="#222" stroke-width="0.15">Hardness(Hv)</text>
<text x="275.2" y="16.3" font-size="14.2" fill="#111">(b)</text>
</g>
<g id="chartC">
<rect x="163.0" y="250.3" width="262.5" height="199.9" fill="none" stroke="#2a2a2a" stroke-width="0.85"/>
<path d="M163.0 437.30h3M425.5 437.30h-3M163.0 423.95h1.6M425.5 423.95h-1.6M163.0 410.60h3M425.5 410.60h-3M163.0 397.25h1.6M425.5 397.25h-1.6M163.0 383.90h3M425.5 383.90h-3M163.0 370.55h1.6M425.5 370.55h-1.6M163.0 357.20h3M425.5 357.20h-3M163.0 343.85h1.6M425.5 343.85h-1.6M163.0 330.50h3M425.5 330.50h-3M163.0 317.15h1.6M425.5 317.15h-1.6M163.0 303.80h3M425.5 303.80h-3M163.0 290.45h1.6M425.5 290.45h-1.6M163.0 277.10h3M425.5 277.10h-3M163.0 263.75h1.6M425.5 263.75h-1.6M163.0 250.40h3M425.5 250.40h-3M180.5 450.2v-2.8M216.1 450.2v-2.8M251.6 450.2v-2.8M287.1 450.2v-2.8M322.7 450.2v-2.8M358.2 450.2v-2.8M393.8 450.2v-2.8M198.3 450.2v-1.5M233.8 450.2v-1.5M269.4 450.2v-1.5M304.9 450.2v-1.5M340.5 450.2v-1.5M376.0 450.2v-1.5" stroke="#2a2a2a" stroke-width="0.9" fill="none"/>
<text transform="translate(159.6 440.4) scale(1 1.06)" font-size="8.3" fill="#222" text-anchor="end">30</text>
<text transform="translate(159.6 413.7) scale(1 1.06)" font-size="8.3" fill="#222" text-anchor="end">40</text>
<text transform="translate(159.6 387.0) scale(1 1.06)" font-size="8.3" fill="#222" text-anchor="end">50</text>
<text transform="translate(159.6 360.3) scale(1 1.06)" font-size="8.3" fill="#222" text-anchor="end">60</text>
<text transform="translate(159.6 333.6) scale(1 1.06)" font-size="8.3" fill="#222" text-anchor="end">70</text>
<text transform="translate(159.6 306.9) scale(1 1.06)" font-size="8.3" fill="#222" text-anchor="end">80</text>
<text transform="translate(159.6 280.2) scale(1 1.06)" font-size="8.3" fill="#222" text-anchor="end">90</text>
<text transform="translate(159.6 253.5) scale(1 1.06)" font-size="8.3" fill="#222" text-anchor="end">100</text>
<text transform="translate(430.4 440.4) scale(1 1.06)" font-size="8.3" fill="#222">30</text>
<text transform="translate(430.4 413.7) scale(1 1.06)" font-size="8.3" fill="#222">40</text>
<text transform="translate(430.4 387.0) scale(1 1.06)" font-size="8.3" fill="#222">50</text>
<text transform="translate(430.4 360.3) scale(1 1.06)" font-size="8.3" fill="#222">60</text>
<text transform="translate(430.4 333.6) scale(1 1.06)" font-size="8.3" fill="#222">70</text>
<text transform="translate(430.4 306.9) scale(1 1.06)" font-size="8.3" fill="#222">80</text>
<text transform="translate(430.4 280.2) scale(1 1.06)" font-size="8.3" fill="#222">90</text>
<text transform="translate(430.4 253.5) scale(1 1.06)" font-size="8.3" fill="#222">100</text>
<text transform="translate(180.5 461.6) scale(1 1.06)" font-size="8.6" fill="#222" text-anchor="middle">S-1</text>
<text transform="translate(216.1 461.6) scale(1 1.06)" font-size="8.6" fill="#222" text-anchor="middle">ARB-1</text>
<text transform="translate(251.6 461.6) scale(1 1.06)" font-size="8.6" fill="#222" text-anchor="middle">ARB-3</text>
<text transform="translate(287.1 461.6) scale(1 1.06)" font-size="8.6" fill="#222" text-anchor="middle">ARB-5</text>
<text transform="translate(322.7 461.6) scale(1 1.06)" font-size="8.6" fill="#222" text-anchor="middle">CR-1</text>
<text transform="translate(358.2 461.6) scale(1 1.06)" font-size="8.6" fill="#222" text-anchor="middle">CR-3</text>
<text transform="translate(393.8 461.6) scale(1 1.06)" font-size="8.6" fill="#222" text-anchor="middle">CR-5</text>
<text transform="translate(281.0 477.1) scale(1 1.06)" font-size="11.1" fill="#222" text-anchor="middle">Processed cycles</text>
<text transform="translate(143.6 338.4) rotate(-90) scale(1.11 1)" font-size="10.7" fill="#222" text-anchor="middle">Modulus of elasticity(Gpa)</text>
<text transform="translate(452.6 350.0) rotate(-90) scale(1.06 1)" font-size="10.3" fill="#222" text-anchor="middle">Micro hardness(HV)</text>
<text x="123.2" y="259.3" font-size="14.2" fill="#111">(c)</text>
<path d="M180.5 319.8V335.8M178.5 319.8h4M178.5 335.8h4M216.1 317.7V327.3M214.1 317.7h4M214.1 327.3h4M251.6 311.8V322.5M249.6 311.8h4M249.6 322.5h4M287.1 299.0V308.6M285.1 299.0h4M285.1 308.6h4M322.7 295.8V306.5M320.7 295.8h4M320.7 306.5h4M358.2 291.0V300.6M356.2 291.0h4M356.2 300.6h4M393.8 282.4V293.1M391.8 282.4h4M391.8 293.1h4" stroke="#8a90ea" stroke-width="0.8" fill="none"/>
<path d="M180.5 407.9V418.6M178.5 407.9h4M178.5 418.6h4M216.1 377.2V385.2M214.1 377.2h4M214.1 385.2h4M251.6 347.9V355.9M249.6 347.9h4M249.6 355.9h4M287.1 322.5V333.2M285.1 322.5h4M285.1 333.2h4M322.7 302.2V310.7M320.7 302.2h4M320.7 310.7h4M358.2 295.8V306.5M356.2 295.8h4M356.2 306.5h4M393.8 286.4V299.8M391.8 286.4h4M391.8 299.8h4" stroke="#f0a0a8" stroke-width="0.8" fill="none"/>
<path d="M180.5 413.3 L216.1 381.2 L251.6 351.9 L287.1 327.8 L322.7 306.5 L358.2 301.1 L393.8 293.1" fill="none" stroke="#e0454a" stroke-width="1"/>
<path d="M180.5 327.8 L216.1 322.5 L251.6 317.1 L287.1 303.8 L322.7 301.1 L358.2 295.8 L393.8 287.8" fill="none" stroke="#2a2ad8" stroke-width="1"/>
<circle cx="180.5" cy="413.3" r="2.5" fill="#e8303a"/>
<circle cx="216.1" cy="381.2" r="2.5" fill="#e8303a"/>
<circle cx="251.6" cy="351.9" r="2.5" fill="#e8303a"/>
<circle cx="287.1" cy="327.8" r="2.5" fill="#e8303a"/>
<circle cx="322.7" cy="306.5" r="2.5" fill="#e8303a"/>
<circle cx="358.2" cy="301.1" r="2.5" fill="#e8303a"/>
<circle cx="393.8" cy="293.1" r="2.5" fill="#e8303a"/>
<rect x="178.1" y="325.4" width="4.8" height="4.8" fill="#1414e0"/>
<rect x="213.7" y="320.1" width="4.8" height="4.8" fill="#1414e0"/>
<rect x="249.2" y="314.8" width="4.8" height="4.8" fill="#1414e0"/>
<rect x="284.8" y="301.4" width="4.8" height="4.8" fill="#1414e0"/>
<rect x="320.3" y="298.7" width="4.8" height="4.8" fill="#1414e0"/>
<rect x="355.9" y="293.4" width="4.8" height="4.8" fill="#1414e0"/>
<rect x="391.4" y="285.4" width="4.8" height="4.8" fill="#1414e0"/>
<text transform="translate(183.2 336.6) scale(1 1.06)" font-size="10.7" fill="#161616">71</text>
<text transform="translate(218.6 331.3) scale(1 1.06)" font-size="10.7" fill="#161616">73</text>
<text transform="translate(254.0 325.1) scale(1 1.06)" font-size="10.7" fill="#161616">75</text>
<text transform="translate(288.8 311.8) scale(1 1.06)" font-size="10.7" fill="#161616">80</text>
<text transform="translate(324.5 308.8) scale(1 1.06)" font-size="10.7" fill="#161616">81</text>
<text transform="translate(359.8 303.9) scale(1 1.06)" font-size="10.7" fill="#161616">83</text>
<text transform="translate(395.4 296.4) scale(1 1.06)" font-size="10.7" fill="#161616">86</text>
<text transform="translate(176.1 425.8) scale(1 1.06)" font-size="10.7" fill="#161616">39</text>
<text transform="translate(210.8 393.2) scale(1 1.06)" font-size="10.7" fill="#161616">51</text>
<text transform="translate(246.5 365.6) scale(1 1.06)" font-size="10.7" fill="#161616">62</text>
<text transform="translate(282.3 341.2) scale(1 1.06)" font-size="10.7" fill="#161616">71</text>
<text transform="translate(317.9 318.6) scale(1 1.06)" font-size="10.7" fill="#161616">79</text>
<text transform="translate(352.6 313.7) scale(1 1.06)" font-size="10.7" fill="#161616">81</text>
<text transform="translate(388.6 306.2) scale(1 1.06)" font-size="10.7" fill="#161616">84</text>
<g font-size="7.85" fill="#2a2a2a" stroke="#2a2a2a" stroke-width="0.12">
<text x="170.9" y="306.6">Y=71.675x</text>
<text x="170.9" y="316.2">R<tspan font-size="4.8" dy="-3">2</tspan><tspan dy="3">=0.967</tspan></text>
<text x="203.8" y="336.6">Y=73.678x</text>
<text x="203.8" y="346.8">R<tspan font-size="4.8" dy="-3">2</tspan><tspan dy="3">=0.9678</tspan></text>
<text x="230" y="298.8">Y=75.75x</text>
<text x="230" y="309.0">R<tspan font-size="4.8" dy="-3">2</tspan><tspan dy="3">=0.987</tspan></text>
<text x="270.8" y="285.5">Y=80.31x</text>
<text x="270.8" y="296.0">R<tspan font-size="4.8" dy="-3">2</tspan><tspan dy="3">=0.9643</tspan></text>
<text x="310.7" y="281.9">Y=81.13x</text>
<text x="310.7" y="292.4">R<tspan font-size="4.8" dy="-3">2</tspan><tspan dy="3">=0.8634</tspan></text>
<text x="350" y="271.4">Y=83.45x</text>
<text x="350" y="281.9">R<tspan font-size="4.8" dy="-3">2</tspan><tspan dy="3">=0.956</tspan></text>
<text x="386.2" y="269.7">Y=86.34x</text>
<text x="386.2" y="280.1">R<tspan font-size="4.8" dy="-3">2</tspan><tspan dy="3">=0.954</tspan></text>
</g>
<rect x="169.5" y="256.8" width="77.6" height="26.2" fill="#fff" stroke="#777" stroke-width="0.8"/>
<path d="M171.8 264.1H196.2" stroke="#2a2ad8" stroke-width="1"/><rect x="181.8" y="261.9" width="4.4" height="4.4" fill="#1414e0"/>
<path d="M171.8 277.8H196.2" stroke="#e0454a" stroke-width="1"/><circle cx="184" cy="277.8" r="2.5" fill="#e8303a"/>
<g font-size="10.9" fill="#1a1a1a"><text x="199.1" y="268">Modulus</text><text x="199.1" y="281.7">Hardness</text></g>
</g>
</svg>
</body></html>
